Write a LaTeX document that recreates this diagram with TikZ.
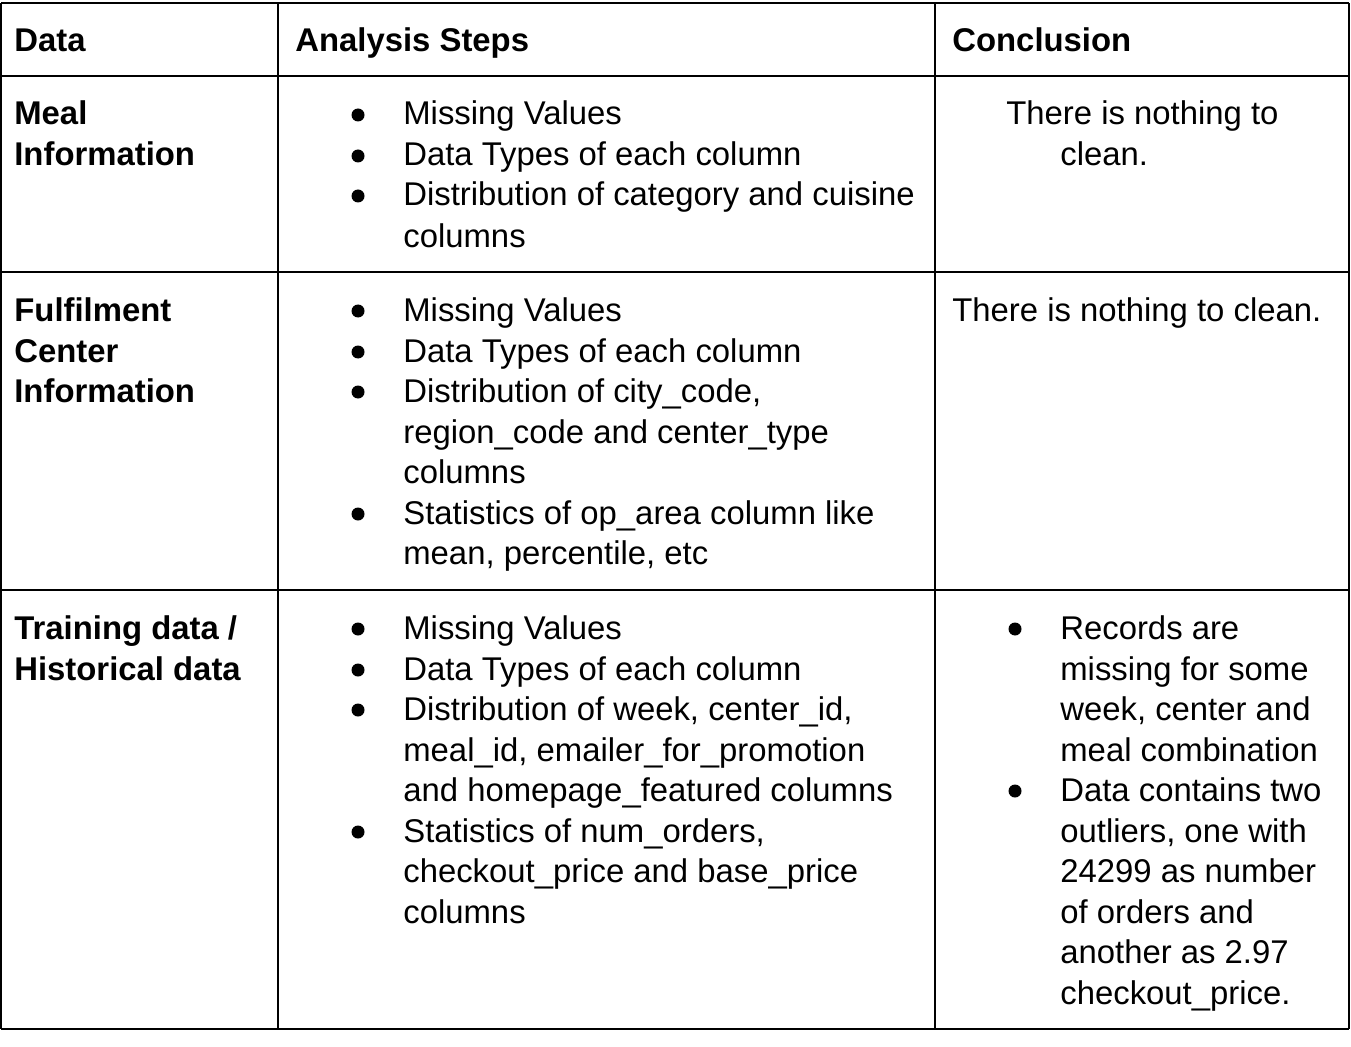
\documentclass[tikz,border=0pt]{standalone}
\usepackage{fontspec}
\setmainfont{Liberation Sans}
\begin{document}
\begin{tikzpicture}[x=0.02cm,y=-0.02cm,
  t/.style={anchor=base west,inner sep=0pt,font=\fontsize{18.7}{21}\selectfont},
  h/.style={t,font=\fontsize{18.7}{21}\selectfont\bfseries},
  grid/.style={line width=1.5pt},
  bul/.style={fill=black}]
\useasboundingbox (0,0) rectangle (1351,1047);
% grid
\draw[grid] (1,3) -- (1349,3);
\foreach \yy in {76,272,590,1029} \draw[grid] (1,\yy) -- (1349,\yy);
\foreach \xx in {1,278,935,1349} \draw[grid] (\xx,3) -- (\xx,1029);
% header
\node[h] (h1) at (14,52) {Data};
\node[h] (h2) at (295,52) {Analysis Steps};
\node[h] (h3) at (952,52) {Conclusion};
% labels
\node[h] (l1a) at (14,125) {Meal};
\node[h] (l1b) at (14,166) {Information};
\node[h] (l2a) at (14,321) {Fulfilment};
\node[h] (l2b) at (14,362) {Center};
\node[h] (l2c) at (14,402) {Information};
\node[h] (l3a) at (14,639) {Training data /};
\node[h] (l3b) at (14,680) {Historical data};
% row 1 steps
\foreach \y/\s [count=\i] in {125/Missing Values,166/Data Types of each column,206/Distribution of category and cuisine,248/columns}
  \node[t] (a\i) at (403,\y) {\s};
\foreach \y in {125,166,206} \fill[bul] (358,\y-10) circle (6.5);
% row 2 steps
\foreach \y/\s [count=\i] in {321/Missing Values,362/Data Types of each column,402/{Distribution of city\_code,},443/region\_code and center\_type,483/columns,524/Statistics of op\_area column like,564/{mean, percentile, etc}}
  \node[t] (b\i) at (403,\y) {\s};
\foreach \y in {321,362,402,524} \fill[bul] (358,\y-10) circle (6.5);
% row 3 steps
\foreach \y/\s [count=\i] in {639/Missing Values,680/Data Types of each column,720/{Distribution of week, center\_id,},761/{meal\_id, emailer\_for\_promotion},801/and homepage\_featured columns,842/{Statistics of num\_orders,},882/checkout\_price and base\_price,923/columns}
  \node[t] (c\i) at (403,\y) {\s};
\foreach \y in {639,680,720,842} \fill[bul] (358,\y-10) circle (6.5);
% conclusions
\node[t] (k1a) at (1006,125) {There is nothing to};
\node[t] (k1b) at (1060,166) {clean.};
\node[t] (k2) at (952,321) {There is nothing to clean.};
\foreach \y/\s [count=\i] in {639/Records are,680/missing for some,720/{week, center and},761/meal combination,801/Data contains two,842/{outliers, one with},882/24299 as number,923/of orders and,963/another as 2.97,1004/checkout\_price.}
  \node[t] (d\i) at (1060,\y) {\s};
\foreach \y in {639,801} \fill[bul] (1015,\y-10) circle (6.5);
\end{tikzpicture}
\end{document}
